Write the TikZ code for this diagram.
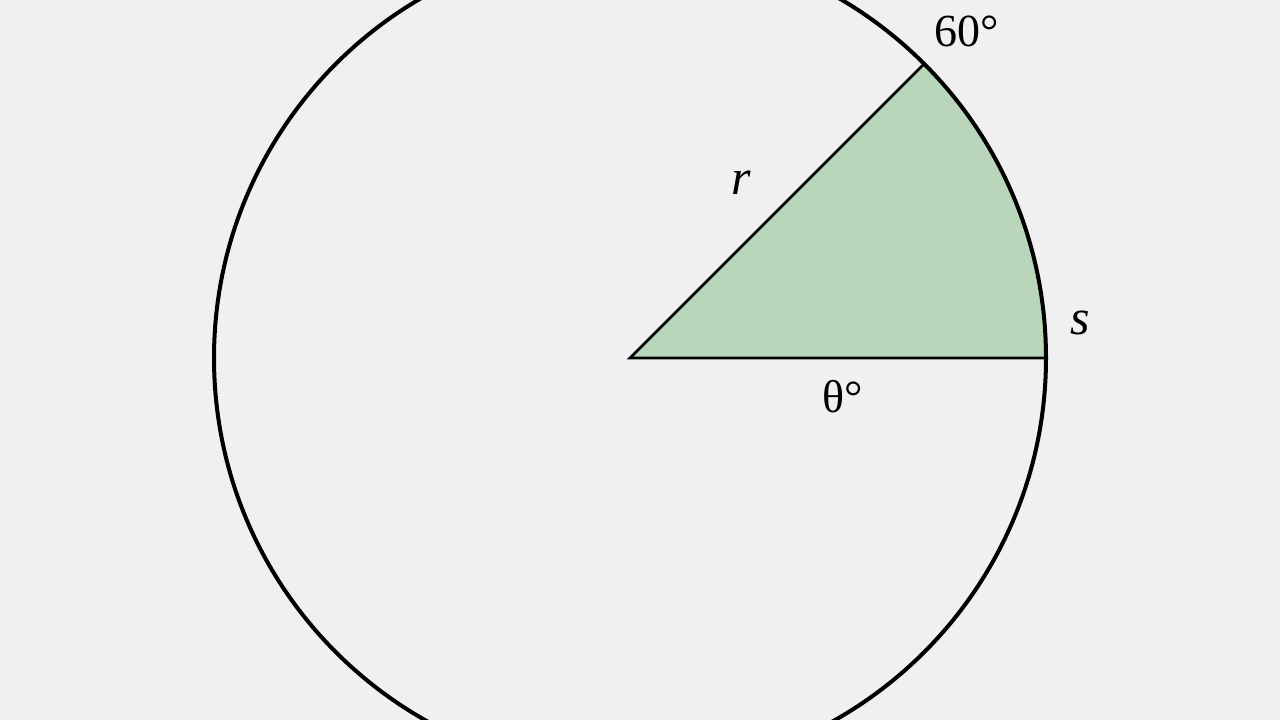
\documentclass[tikz,border=0pt]{standalone}
\usepackage{fontspec}
\setmainfont{Liberation Serif}
\usetikzlibrary{calc}
\definecolor{bg}{HTML}{F0F0F0}
\definecolor{sector}{HTML}{B9D5BA}
\tikzset{
  outline/.style={line width=4pt, black},
  radial/.style={line width=2.8pt, black, line join=miter},
  lbl/.style={inner sep=0pt, font=\fontsize{46}{54}\selectfont}
}
\begin{document}
\begin{tikzpicture}[x=1pt,y=-1pt]
\useasboundingbox (0,0) rectangle (1280,720);
\fill[bg] (0,0) rectangle (1280,720);
\clip (0,0) rectangle (1280,720);
\coordinate (O) at (630,358);
\coordinate (B) at ($(O)+(416,0)$);
\coordinate (A) at ($(O)+(294.2,-294.2)$);
\fill[sector] (O) -- (B) arc[start angle=0, end angle=-45, radius=416] -- cycle;
\draw[outline] (O) circle[radius=416];
\draw[radial] (A) -- (O) -- (B);
\node[lbl] (l60) at (967,31) {60°};
\node[lbl, font=\fontsize{50}{58}\selectfont\itshape] (lr) at (741,183) {r};
\node[lbl, font=\fontsize{50}{58}\selectfont\itshape] (ls) at (1080,323) {s};
\node[lbl] (lt) at (843,397) {θ°};
\end{tikzpicture}
\end{document}
